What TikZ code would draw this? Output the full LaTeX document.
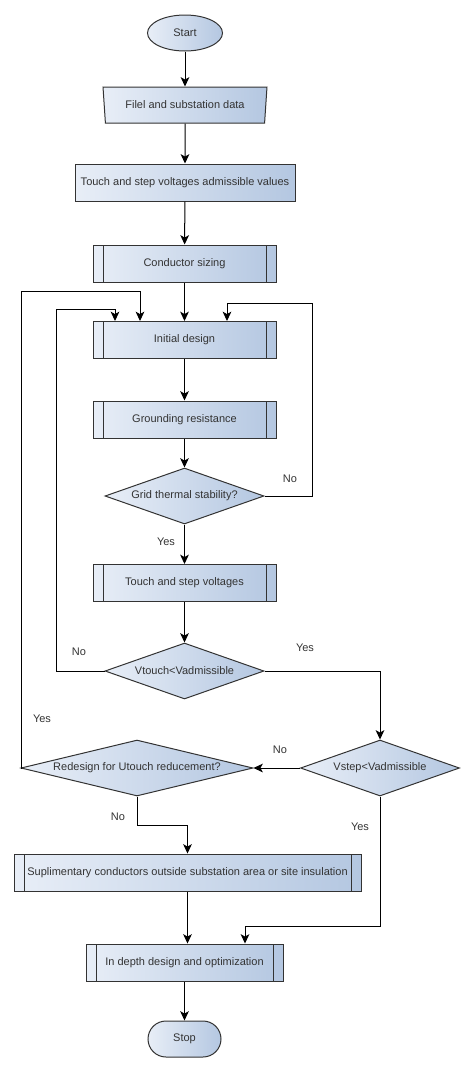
\documentclass[tikz,border=0pt]{standalone}
\usepackage{fontspec}
\setmainfont{Liberation Sans}
\usetikzlibrary{shapes.geometric,arrows.meta}
\definecolor{lightfill}{HTML}{E8EEF7}
\definecolor{darkfill}{HTML}{B4C7E1}
\definecolor{edge}{HTML}{333333}

\begin{document}
\begin{tikzpicture}[x=0.75pt,y=-0.75pt,
	font=\fontsize{8.25}{10}\selectfont,text=edge,
	base/.style={draw=edge,line width=0.75pt,left color=lightfill,right color=darkfill,inner sep=0pt},
	box/.style={base,rectangle,minimum width=165pt,minimum height=27.75pt},
	subproc/.style={box,minimum width=137.25pt,
		path picture={\draw[edge,line width=0.75pt]
			([xshift=7.5pt]path picture bounding box.north west) -- ([xshift=7.5pt]path picture bounding box.south west)
			([xshift=-7.5pt]path picture bounding box.north east) -- ([xshift=-7.5pt]path picture bounding box.south east);}},
	decision/.style={base,diamond,aspect=2.84,minimum width=119.25pt,minimum height=42pt},
	arr/.style={draw=black,line width=0.75pt,-{Stealth[length=7pt,width=6.5pt,inset=1.8pt]}},
	lbl/.style={text=edge}]
	\useasboundingbox (0,0) rectangle (474,1072);

	% nodes
	\node[base,ellipse,minimum width=56.25pt,minimum height=27pt] (start) at (185,33) {Start};
	\node[base,trapezium,shape border rotate=180,trapezium left angle=77.5,trapezium right angle=77.5,
		trapezium stretches=true,minimum width=123.75pt,minimum height=27pt] (data) at (185,105) {Filel and substation data};
	\node[box] (limits) at (185,182.5) {Touch and step voltages admissible values};
	\node[subproc] (sizing) at (184.5,263.5) {Conductor sizing};
	\node[subproc] (init) at (184.5,340) {Initial design};
	\node[subproc] (resist) at (184.5,419.5) {Grounding resistance};
	\node[decision] (grid) at (184.5,496) {Grid thermal stability?};
	\node[subproc] (voltages) at (184.5,583) {Touch and step voltages};
	\node[decision] (vtouch) at (184.5,671) {Vtouch<Vadmissible};
	\node[decision] (vstep) at (380,768) {Vstep<Vadmissible};
	\node[decision,aspect=4.14,minimum width=174pt] (redes) at (137,768) {Redesign for Utouch reducement?};
	\node[subproc,minimum width=260.25pt] (supl) at (187.5,872.5) {Suplimentary conductors outside substation area or site insulation};
	\node[subproc,minimum width=147.75pt] (depth) at (184.5,962.5) {In depth design and optimization};
	\node[base,rectangle,rounded corners=13.5pt,minimum width=54.75pt,minimum height=27pt] (stop) at (184.5,1039) {Stop};

	% labels
	\node[lbl] (gridno) at (290,479) {No};
	\node[lbl] (gridyes) at (166,542) {Yes};
	\node[lbl] (vtouchno) at (79,652) {No};
	\node[lbl] (vtouchyes) at (305,648) {Yes};
	\node[lbl] (redesyes) at (42,719) {Yes};
	\node[lbl] (vstepno) at (280,750) {No};
	\node[lbl] (redesno) at (118,817) {No};
	\node[lbl] (vstepyes) at (360,827) {Yes};

	% connectors
	\draw[arr] (start) -- (data);
	\draw[arr] (data) -- (limits);
	\draw[arr] (limits) -- (sizing);
	\draw[arr] (sizing) -- (init);
	\draw[arr] (init) -- (resist);
	\draw[arr] (resist) -- (grid);
	\draw[arr] (grid) -- (voltages);
	\draw[arr] (voltages) -- (vtouch);
	\draw[arr] (grid.east) -| (312,303) -| (init.north -| 227,0);
	\draw[arr] (vtouch.west) -| (56,309) -| (init.north -| 115,0);
	\draw[arr] (redes.west) -| (21,291) -| (init.north -| 140,0);
	\draw[arr] (vtouch.east) -| (vstep.north);
	\draw[arr] (vstep.west) -- (redes.east);
	\draw[arr] (redes.south) -- (137,825) -| (supl.north);
	\draw[arr] (vstep.south) -- (380,926) -| (depth.north -| 245,0);
	\draw[arr] (supl.south) -- (depth.north -| supl.south);
	\draw[arr] (depth) -- (stop);
\end{tikzpicture}
\end{document}
